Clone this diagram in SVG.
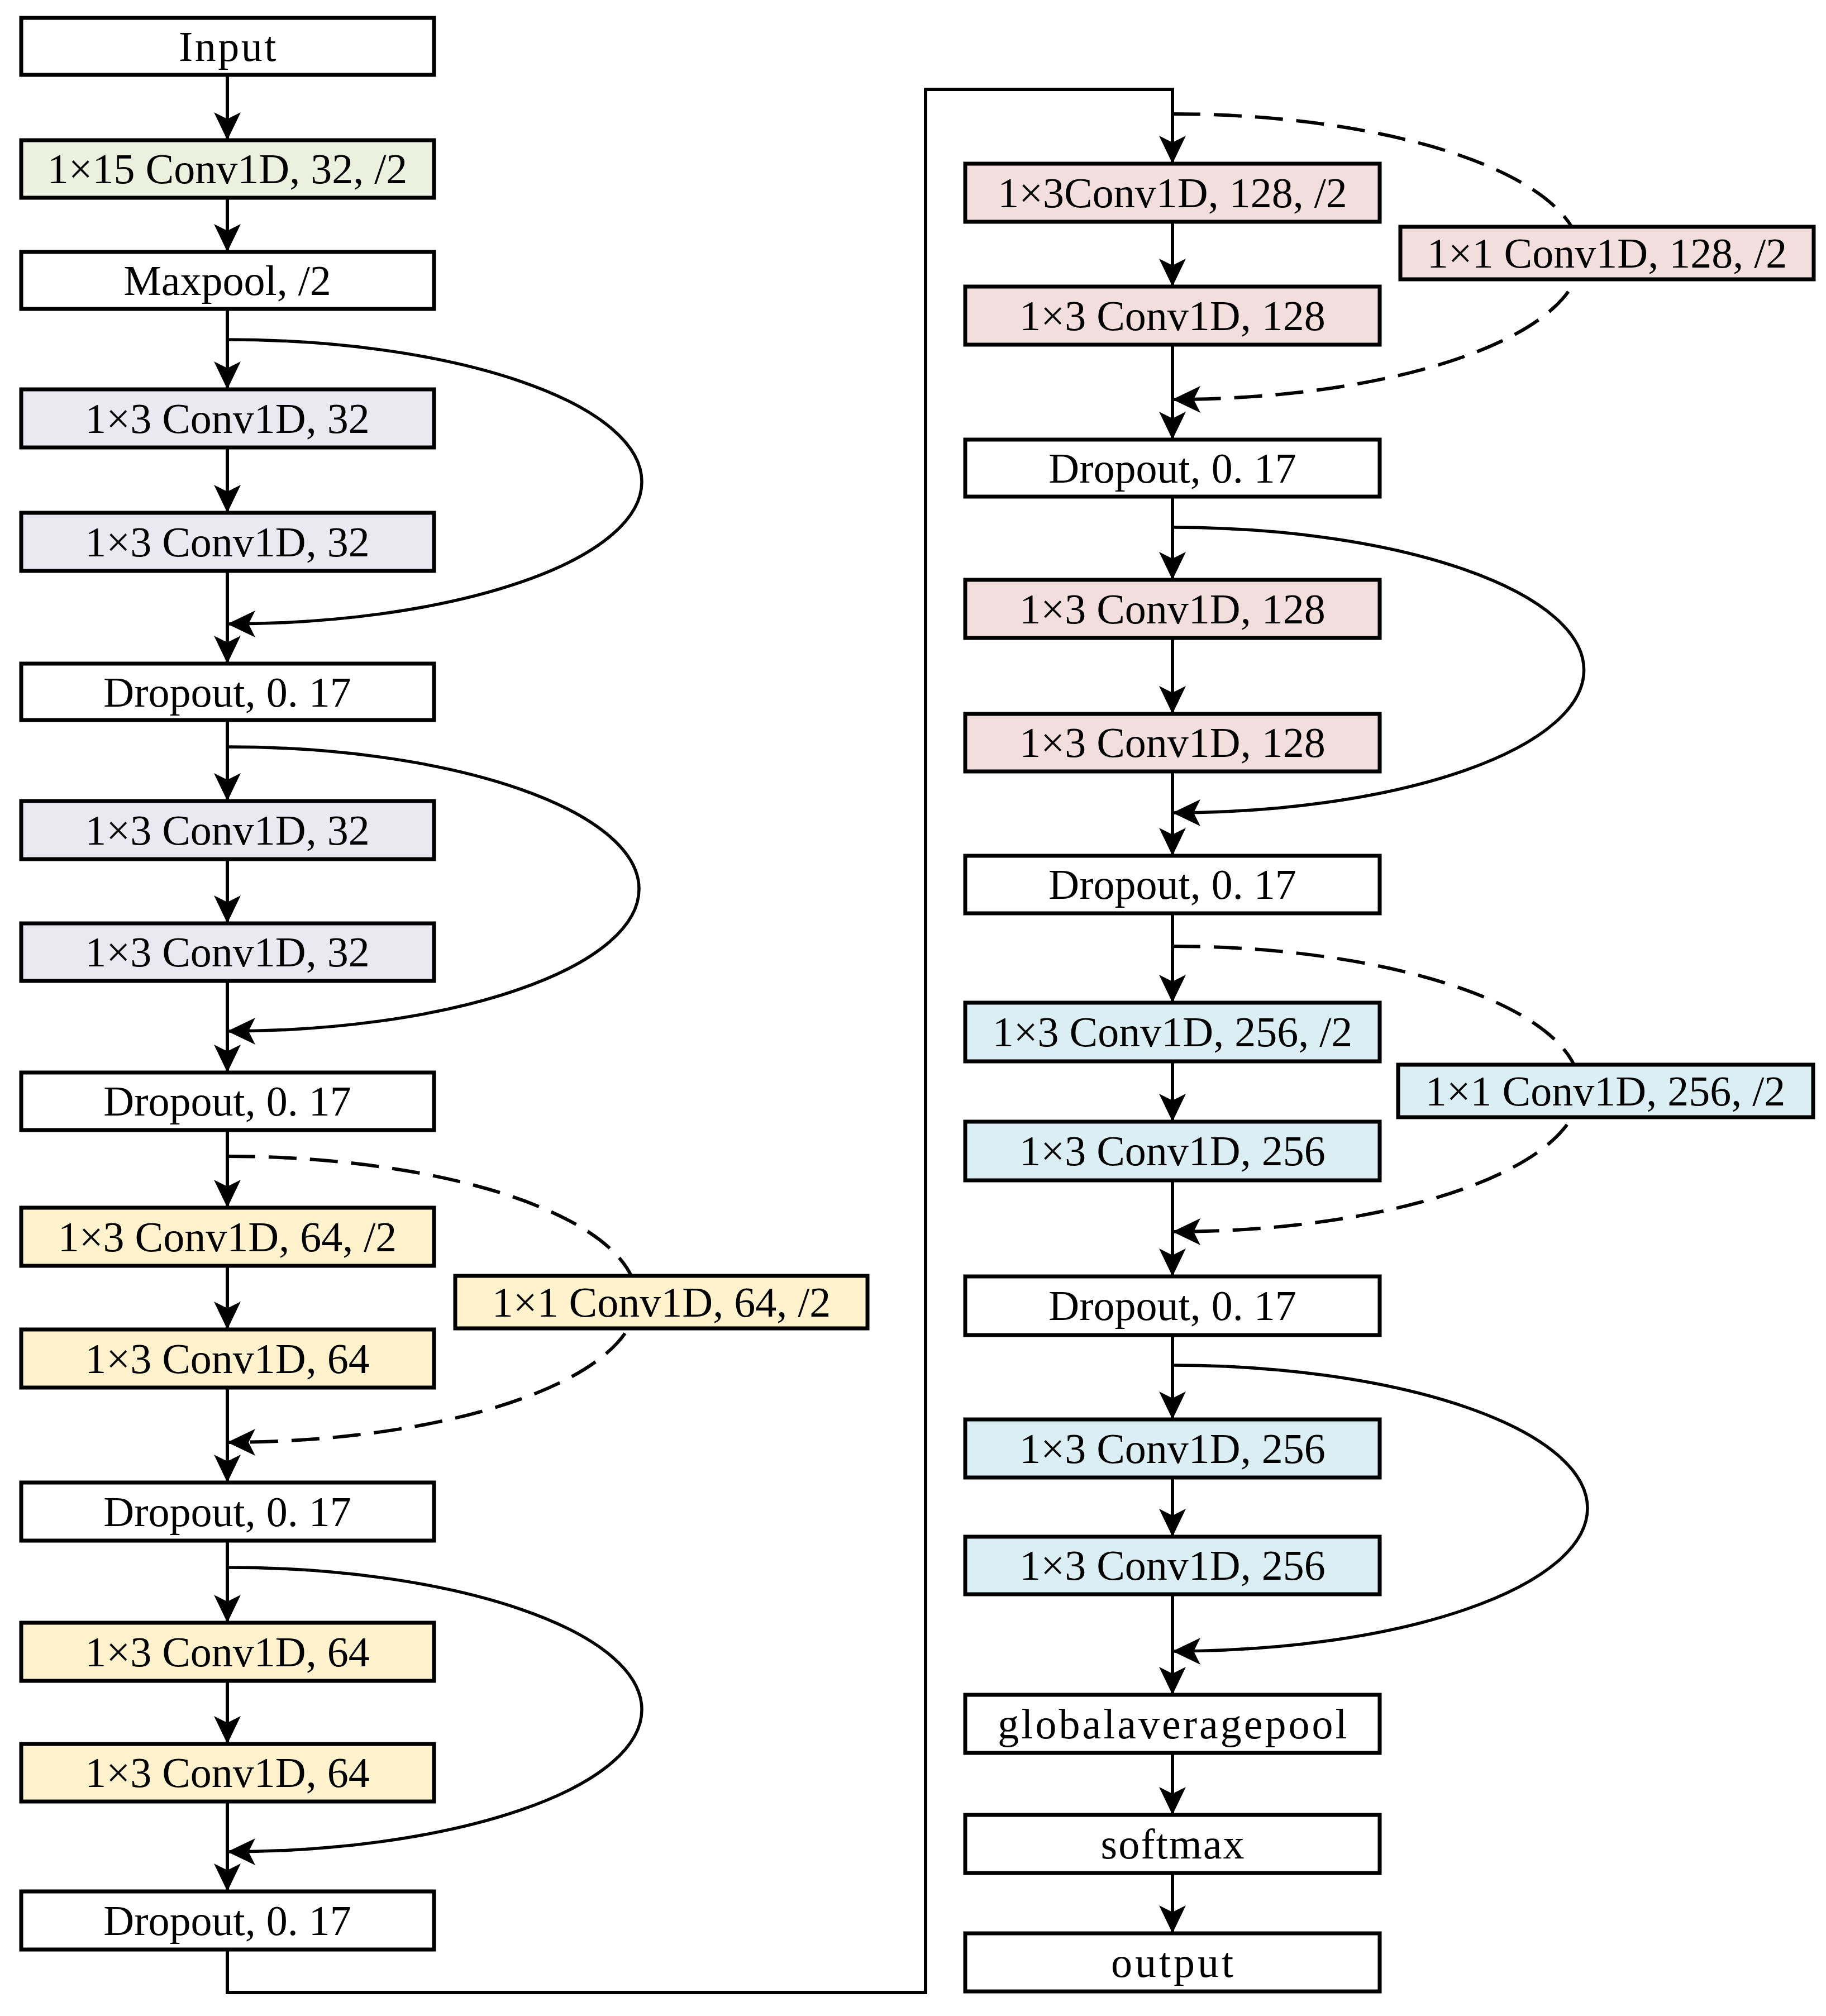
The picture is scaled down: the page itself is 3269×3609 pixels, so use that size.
<svg xmlns="http://www.w3.org/2000/svg" width="3269" height="3609" viewBox="0 0 3269 3609">
<style>
.b{stroke:#000;stroke-width:7}
.w{fill:#fff}.g{fill:#EBF1DE}.l{fill:#EAE8F0}.y{fill:#FFF2CC}.p{fill:#F2DEDC}.c{fill:#DBEEF4}
.t{font-family:"Liberation Serif","Noto Sans CJK SC",serif;font-size:76px;fill:#000;text-anchor:middle}
.ln{fill:none;stroke:#000;stroke-width:6}
.cv{fill:none;stroke:#000;stroke-width:5.5}
.ds{fill:none;stroke:#000;stroke-width:6;stroke-dasharray:50 24}
</style>
<defs>
<marker id="arr" markerUnits="userSpaceOnUse" markerWidth="70" markerHeight="70" viewBox="-60 -35 70 70" refX="0" refY="0" orient="auto" overflow="visible">
<path d="M0,0 L-50,-24 L-38,0 L-50,24 Z" fill="#000"/>
</marker>
</defs>
<rect width="3269" height="3609" fill="#fff"/>
<g id="connectors">
<path class="ln" marker-end="url(#arr)" d="M407,134V251"/>
<path class="ln" marker-end="url(#arr)" d="M407,354V451"/>
<path class="ln" marker-end="url(#arr)" d="M407,553V697"/>
<path class="ln" marker-end="url(#arr)" d="M407,801V918"/>
<path class="ln" marker-end="url(#arr)" d="M407,1022V1188"/>
<path class="ln" marker-end="url(#arr)" d="M407,1289V1434"/>
<path class="ln" marker-end="url(#arr)" d="M407,1538V1653"/>
<path class="ln" marker-end="url(#arr)" d="M407,1756V1920"/>
<path class="ln" marker-end="url(#arr)" d="M407,2023V2162"/>
<path class="ln" marker-end="url(#arr)" d="M407,2266V2380"/>
<path class="ln" marker-end="url(#arr)" d="M407,2484V2654"/>
<path class="ln" marker-end="url(#arr)" d="M407,2758V2905"/>
<path class="ln" marker-end="url(#arr)" d="M407,3009V3122"/>
<path class="ln" marker-end="url(#arr)" d="M407,3225V3386"/>
<path class="ln" marker-end="url(#arr)" d="M407,3490V3567H1657V160H2099V293"/>
<path class="ln" marker-end="url(#arr)" d="M2099,397V513"/>
<path class="ln" marker-end="url(#arr)" d="M2099,617V787"/>
<path class="ln" marker-end="url(#arr)" d="M2099,889V1038"/>
<path class="ln" marker-end="url(#arr)" d="M2099,1142V1278"/>
<path class="ln" marker-end="url(#arr)" d="M2099,1381V1532"/>
<path class="ln" marker-end="url(#arr)" d="M2099,1635V1795"/>
<path class="ln" marker-end="url(#arr)" d="M2099,1900V2008"/>
<path class="ln" marker-end="url(#arr)" d="M2099,2113V2285"/>
<path class="ln" marker-end="url(#arr)" d="M2099,2390V2541"/>
<path class="ln" marker-end="url(#arr)" d="M2099,2645V2751"/>
<path class="ln" marker-end="url(#arr)" d="M2099,2854V3034"/>
<path class="ln" marker-end="url(#arr)" d="M2099,3138V3249"/>
<path class="ln" marker-end="url(#arr)" d="M2099,3353V3461"/>
<path class="cv" marker-end="url(#arr)" d="M407,608A742,254.5 0 0 1 407,1117"/>
<path class="cv" marker-end="url(#arr)" d="M407,1337A737,254.5 0 0 1 407,1846"/>
<path class="ds" marker-end="url(#arr)" d="M407,2070A733,256 0 0 1 407,2582"/>
<path class="cv" marker-end="url(#arr)" d="M407,2806A742,254.5 0 0 1 407,3315"/>
<path class="ds" marker-end="url(#arr)" d="M2099,204A731,255.5 0 0 1 2099,715"/>
<path class="cv" marker-end="url(#arr)" d="M2099,944A737,255.5 0 0 1 2099,1455"/>
<path class="ds" marker-end="url(#arr)" d="M2099,1694A730,255.5 0 0 1 2099,2205"/>
<path class="cv" marker-end="url(#arr)" d="M2099,2444A743,256 0 0 1 2099,2956"/>
</g>
<g id="n_input"><rect class="b w" x="38" y="32" width="739" height="102"/><text class="t" x="409" y="109" letter-spacing="3.5">Input</text></g>
<g id="n_conv15"><rect class="b g" x="38" y="251" width="739" height="103"/><text class="t" x="407" y="328">1×15 Conv1D, 32, /2</text></g>
<g id="n_maxpool"><rect class="b w" x="38" y="451" width="739" height="102"/><text class="t" x="407" y="528">Maxpool, /2</text></g>
<g id="n_c32a"><rect class="b l" x="38" y="697" width="739" height="104"/><text class="t" x="407" y="775">1×3 Conv1D, 32</text></g>
<g id="n_c32b"><rect class="b l" x="38" y="918" width="739" height="104"/><text class="t" x="407" y="996">1×3 Conv1D, 32</text></g>
<g id="n_drop1"><rect class="b w" x="38" y="1188" width="739" height="101"/><text class="t" x="407" y="1265">Dropout, 0. 17</text></g>
<g id="n_c32c"><rect class="b l" x="38" y="1434" width="739" height="104"/><text class="t" x="407" y="1512">1×3 Conv1D, 32</text></g>
<g id="n_c32d"><rect class="b l" x="38" y="1653" width="739" height="103"/><text class="t" x="407" y="1730">1×3 Conv1D, 32</text></g>
<g id="n_drop2"><rect class="b w" x="38" y="1920" width="739" height="103"/><text class="t" x="407" y="1997">Dropout, 0. 17</text></g>
<g id="n_c64a"><rect class="b y" x="38" y="2162" width="739" height="104"/><text class="t" x="407" y="2240">1×3 Conv1D, 64, /2</text></g>
<g id="n_c64b"><rect class="b y" x="38" y="2380" width="739" height="104"/><text class="t" x="407" y="2458">1×3 Conv1D, 64</text></g>
<g id="n_s64"><rect class="b y" x="815" y="2284" width="738" height="94"/><text class="t" x="1184" y="2357">1×1 Conv1D, 64, /2</text></g>
<g id="n_drop3"><rect class="b w" x="38" y="2654" width="739" height="104"/><text class="t" x="407" y="2732">Dropout, 0. 17</text></g>
<g id="n_c64c"><rect class="b y" x="38" y="2905" width="739" height="104"/><text class="t" x="407" y="2983">1×3 Conv1D, 64</text></g>
<g id="n_c64d"><rect class="b y" x="38" y="3122" width="739" height="103"/><text class="t" x="407" y="3199">1×3 Conv1D, 64</text></g>
<g id="n_drop4"><rect class="b w" x="38" y="3386" width="739" height="104"/><text class="t" x="407" y="3464">Dropout, 0. 17</text></g>
<g id="n_c128a"><rect class="b p" x="1728" y="293" width="742" height="104"/><text class="t" x="2099" y="371">1×3Conv1D, 128, /2</text></g>
<g id="n_s128"><rect class="b p" x="2507" y="406" width="740" height="94"/><text class="t" x="2877" y="479">1×1 Conv1D, 128, /2</text></g>
<g id="n_c128b"><rect class="b p" x="1728" y="513" width="742" height="104"/><text class="t" x="2099" y="591">1×3 Conv1D, 128</text></g>
<g id="n_dropr1"><rect class="b w" x="1728" y="787" width="742" height="102"/><text class="t" x="2099" y="864">Dropout, 0. 17</text></g>
<g id="n_c128c"><rect class="b p" x="1728" y="1038" width="742" height="104"/><text class="t" x="2099" y="1116">1×3 Conv1D, 128</text></g>
<g id="n_c128d"><rect class="b p" x="1728" y="1278" width="742" height="103"/><text class="t" x="2099" y="1355">1×3 Conv1D, 128</text></g>
<g id="n_dropr2"><rect class="b w" x="1728" y="1532" width="742" height="103"/><text class="t" x="2099" y="1609">Dropout, 0. 17</text></g>
<g id="n_c256a"><rect class="b c" x="1728" y="1795" width="742" height="105"/><text class="t" x="2099" y="1873">1×3 Conv1D, 256, /2</text></g>
<g id="n_s256"><rect class="b c" x="2503" y="1906" width="743" height="94"/><text class="t" x="2874" y="1979">1×1 Conv1D, 256, /2</text></g>
<g id="n_c256b"><rect class="b c" x="1728" y="2008" width="742" height="105"/><text class="t" x="2099" y="2086">1×3 Conv1D, 256</text></g>
<g id="n_dropr3"><rect class="b w" x="1728" y="2285" width="742" height="105"/><text class="t" x="2099" y="2363">Dropout, 0. 17</text></g>
<g id="n_c256c"><rect class="b c" x="1728" y="2541" width="742" height="104"/><text class="t" x="2099" y="2619">1×3 Conv1D, 256</text></g>
<g id="n_c256d"><rect class="b c" x="1728" y="2751" width="742" height="103"/><text class="t" x="2099" y="2828">1×3 Conv1D, 256</text></g>
<g id="n_gap"><rect class="b w" x="1728" y="3034" width="742" height="104"/><text class="t" x="2101" y="3112" letter-spacing="4">globalaveragepool</text></g>
<g id="n_softmax"><rect class="b w" x="1728" y="3249" width="742" height="104"/><text class="t" x="2100" y="3327" letter-spacing="2">softmax</text></g>
<g id="n_output"><rect class="b w" x="1728" y="3461" width="742" height="104"/><text class="t" x="2101" y="3539" letter-spacing="5">output</text></g>
</svg>
